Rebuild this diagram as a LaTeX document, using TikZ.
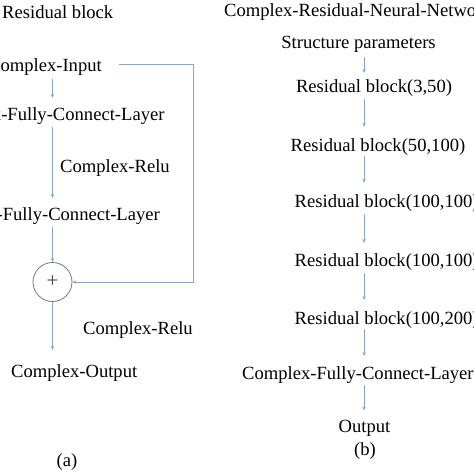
\documentclass[tikz,border=0pt]{standalone}
\usepackage{fontspec}
\setmainfont{Liberation Serif}
\usetikzlibrary{arrows.meta}
\definecolor{linkblue}{RGB}{135,168,196}
\definecolor{ringgray}{RGB}{112,122,128}
\definecolor{plusgray}{RGB}{60,64,68}
\tikzset{
  lbl/.style={inner sep=1pt, font=\fontsize{18.6}{22}\selectfont},
  link/.style={draw=linkblue, line width=0.9pt, -{Stealth[length=4pt,width=3.5pt]}, shorten <=2pt, shorten >=8pt},
  ring/.style={circle, draw=ringgray, line width=0.8pt, minimum size=39pt, inner sep=0pt, text=plusgray}
}
\begin{document}
\begin{tikzpicture}[x=1pt, y=-1pt]
	  \useasboundingbox (0,0) rectangle (474,474);
	  \clip (0,0) rectangle (474,474);

	  % (a) residual block
	  \node [ lbl, anchor=base west ] (rbtitle) at (1,18.5) {Residual block};
	  \node [ lbl, anchor=base east ] (cin) at (103,71.5) {Complex-Input};
	  \node [ lbl, anchor=base east ] (cfc1) at (165.7,120) {Complex-Fully-Connect-Layer};
	  \node [ lbl, anchor=base west ] (relu1) at (59,172) {Complex-Relu};
	  \node [ lbl, anchor=base east ] (cfc2) at (161,220) {Complex-Fully-Connect-Layer};
	  \node [ ring ] (sum) at (52.5,282) {\fontsize{21}{21}\selectfont +};
	  \node [ lbl, anchor=base west ] (relu2) at (82,334) {Complex-Relu};
	  \node [ lbl, anchor=base west ] (cout) at (10,377) {Complex-Output};
	  \node [ lbl, anchor=base ] (capa) at (67,466) {(a)};

	  \draw [ link ] (cin.south -| sum) -- (cfc1.north -| sum);
	  \draw [ link ] (cfc1.south -| sum) -- (cfc2.north -| sum);
	  \draw [ link, shorten >=0pt ] (cfc2.south -| sum) -- (sum);
	  \draw [ link, shorten <=0pt, shorten >=13pt ] (sum) -- (cout.north -| sum);

	  \coordinate (skip) at (193,64.5);
	  \draw [ link, shorten <=0pt, shorten >=0pt ] ([xshift=16pt]cin.east |- skip) -- (skip) |- (sum);

	  % (b) network
	  \coordinate (axis) at (364,0);
	  \node [ lbl, anchor=base west ] (nettitle) at (223,16.5) {Complex-Residual-Neural-Network};
	  \node [ lbl, anchor=base ] (param) at (358.5,48) {Structure parameters};
	  \node [ lbl, anchor=base ] (rb1) at (374,92) {Residual block(3,50)};
	  \node [ lbl, anchor=base ] (rb2) at (378,151) {Residual block(50,100)};
	  \node [ lbl, anchor=base west ] (rb3) at (293.5,207) {Residual block(100,100)};
	  \node [ lbl, anchor=base west ] (rb4) at (293.5,266) {Residual block(100,100)};
	  \node [ lbl, anchor=base west ] (rb5) at (293.5,324) {Residual block(100,200)};
	  \node [ lbl, anchor=base west ] (cfcl) at (241,379) {Complex-Fully-Connect-Layer};
	  \node [ lbl, anchor=base ] (nout) at (364.5,432) {Output};
	  \node [ lbl, anchor=base ] (capb) at (365,455) {(b)};

	  \draw [ link, shorten <=4pt, shorten >=5pt ] (param.south -| axis) -- (rb1.north -| axis);
	  \draw [ link, shorten >=10pt ] (rb1.south -| axis) -- (rb2.north -| axis);
	  \draw [ link, shorten <=0pt, shorten >=10pt ] (rb2.south -| axis) -- (rb3.north -| axis);
	  \draw [ link, shorten >=9pt ] (rb3.south -| axis) -- (rb4.north -| axis);
	  \draw [ link, shorten >=10pt ] (rb4.south -| axis) -- (rb5.north -| axis);
	  \draw [ link, shorten <=0pt, shorten >=9pt ] (rb5.south -| axis) -- (cfcl.north -| axis);
	  \draw [ link, shorten <=1pt ] (cfcl.south -| axis) -- (nout.north -| axis);
	\end{tikzpicture}
\end{document}
